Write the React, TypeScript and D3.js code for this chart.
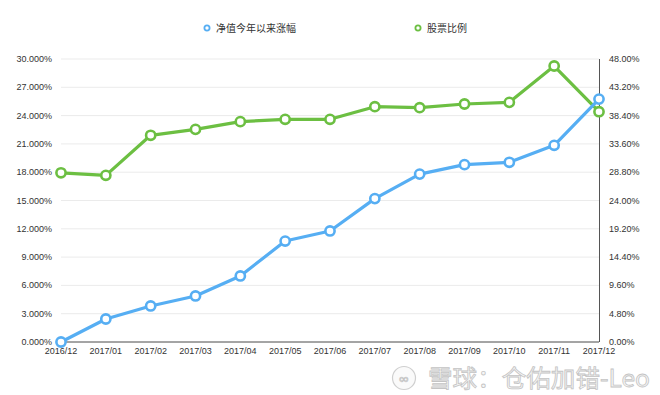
import React from "react";
import * as d3 from "d3";

const categories = ["2016/12","2017/01","2017/02","2017/03","2017/04","2017/05","2017/06","2017/07","2017/08","2017/09","2017/10","2017/11","2017/12"];
const navGrowth = [0, 2.44, 3.82, 4.88, 7.0, 10.7, 11.77, 15.2, 17.8, 18.8, 19.05, 20.85, 25.75];
const stockRatio = [28.7, 28.27, 35.06, 36.07, 37.37, 37.77, 37.77, 39.91, 39.74, 40.37, 40.65, 46.81, 39.06];
const leftTicks = [0,3,6,9,12,15,18,21,24,27,30];
const rightTicks = [0,4.8,9.6,14.4,19.2,24,28.8,33.6,38.4,43.2,48];
const seriesNames = ["净值今年以来涨幅", "股票比例"];

const W = 660, H = 395;
const L = 61, R = 599, T = 59, B = 342;
const BLUE = "#56aef3";
const GREEN = "#6cbf42";
const FONT = "'Liberation Sans', Arial, sans-serif";

export default function App() {
  const x = d3.scalePoint<string>().domain(categories).range([L, R]);
  const yL = d3.scaleLinear().domain([0, 30]).range([B, T]);
  const yR = d3.scaleLinear().domain([0, 48]).range([B, T]);
  const lineL = d3.line<number>().x((_, i) => x(categories[i])!).y(d => yL(d));
  const lineR = d3.line<number>().x((_, i) => x(categories[i])!).y(d => yR(d));

  return (
    <svg width={W} height={H} style={{ position: "absolute", left: 0, top: 0, background: "#fff" }} fontFamily={FONT}>
      {leftTicks.map(t => (
        <g key={"l" + t}>
          <line x1={L} x2={R} y1={yL(t)} y2={yL(t)} stroke="#ebebeb" strokeWidth={1} />
          <text x={52} y={yL(t) + 3} fontSize={9} fill="#333" textAnchor="end">{t.toFixed(3) + "%"}</text>
        </g>
      ))}
      {rightTicks.map(t => (
        <text key={"r" + t} x={609} y={yR(t) + 3} fontSize={9} fill="#333" textAnchor="start">{t.toFixed(2) + "%"}</text>
      ))}
      <line x1={R + 0.5} x2={R + 0.5} y1={T} y2={B} stroke="#555" strokeWidth={1} />
      <line x1={L} x2={R} y1={B} y2={B} stroke="#555" strokeWidth={1} />
      {categories.map(c => (
        <text key={c} x={x(c)!} y={354} fontSize={9} fill="#333" textAnchor="middle">{c}</text>
      ))}
      <path d={lineR(stockRatio)!} fill="none" stroke={GREEN} strokeWidth={3.2} strokeLinejoin="round" />
      {stockRatio.map((v, i) => (
        <circle key={"g" + i} cx={x(categories[i])!} cy={yR(v)} r={4.6} fill="#fff" stroke={GREEN} strokeWidth={2.6} />
      ))}
      <path d={lineL(navGrowth)!} fill="none" stroke={BLUE} strokeWidth={3.2} strokeLinejoin="round" />
      {navGrowth.map((v, i) => (
        <circle key={"b" + i} cx={x(categories[i])!} cy={yL(v)} r={4.6} fill="#fff" stroke={BLUE} strokeWidth={2.6} />
      ))}
      <circle cx={207} cy={28} r={2.6} fill="#fff" stroke={BLUE} strokeWidth={1.8} />
      <text x={216} y={31.5} fontSize={10} fill="#333" fontFamily="'Noto Sans CJK SC', sans-serif">{seriesNames[0]}</text>
      <circle cx={418} cy={28} r={2.6} fill="#fff" stroke={GREEN} strokeWidth={1.8} />
      <text x={427} y={31.5} fontSize={10} fill="#333" fontFamily="'Noto Sans CJK SC', sans-serif">{seriesNames[1]}</text>
      <g>
        <circle cx={404} cy={378} r={11.5} fill="#fafafa" stroke="#cfcfcf" strokeWidth={1.2} />
        <text x={404} y={383} fontSize={13} fill="#f4f4f4" stroke="#c4c4c4" strokeWidth={0.7} textAnchor="middle" fontFamily={FONT}>∞</text>
        <text x={428} y={387} fontSize={24} textLength={222} lengthAdjust="spacingAndGlyphs" fill="#f6f6f6" stroke="#c4c4c4" strokeWidth={0.8} fontFamily="'Noto Sans CJK SC', sans-serif">雪球：仓佑加错-Leo</text>
      </g>
    </svg>
  );
}
